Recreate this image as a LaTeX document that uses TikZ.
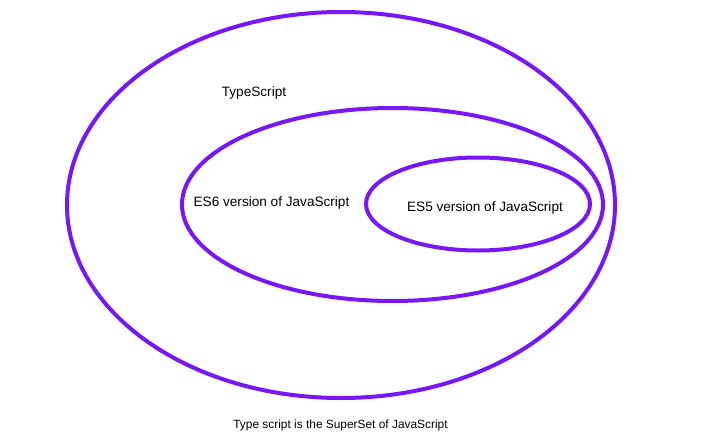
\documentclass[tikz,border=0pt]{standalone}
\usepackage{fontspec}
\setmainfont{Liberation Sans}
\usetikzlibrary{shapes.geometric}
\definecolor{ringpurple}{HTML}{7817F5}
\tikzset{
  ring/.style={draw=ringpurple, line width=4pt, ellipse, inner sep=0pt, fill=none},
  lbl/.style={font=\fontsize{13.6}{15}\selectfont, text=black, inner sep=0pt},
  notetext/.style={font=\fontsize{11.9}{13}\selectfont, text=black, inner sep=0pt}
}
\begin{document}
\begin{tikzpicture}[x=1pt,y=-1pt]
\useasboundingbox (0,0) rectangle (727,444);
\fill[white] (0,0) rectangle (727,444);
\node[ring, minimum width=548pt, minimum height=386pt] (outer) at (341,205) {};
\node[ring, minimum width=421pt, minimum height=193pt] (middle) at (392.5,204.5) {};
\node[ring, minimum width=224pt, minimum height=93pt] (inner) at (478,204) {};
\node[lbl] (ts) at (254,92.5) {TypeScript};
\node[lbl] (es6) at (271.5,202.5) {ES6 version of JavaScript};
\node[lbl] (es5) at (485,207.5) {ES5 version of JavaScript};
\node[notetext] (note) at (340.5,425) {Type script is the SuperSet of JavaScript};
\end{tikzpicture}
\end{document}
